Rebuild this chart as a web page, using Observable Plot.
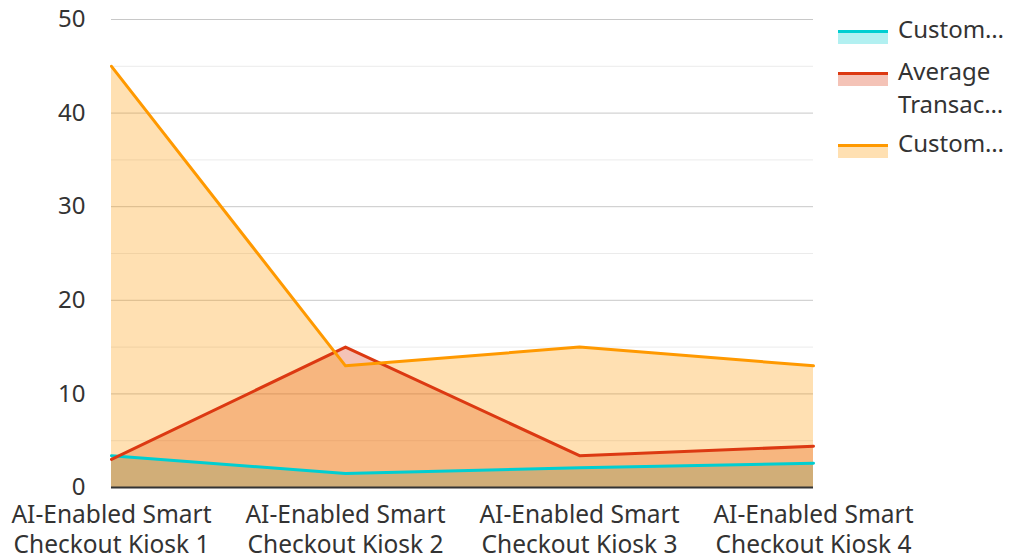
<!DOCTYPE html>
<html><head><meta charset="utf-8">
<script src="https://cdn.jsdelivr.net/npm/d3@7"></script>
<script src="https://cdn.jsdelivr.net/npm/@observablehq/plot@0.6"></script>
<style>
body{margin:0;background:#fff;font-family:"Noto Sans",sans-serif;}
#wrap{position:relative;width:1010px;height:558px;overflow:hidden;}
.item{position:absolute;left:838px;display:flex;}
.sw{width:50px;height:14px;box-sizing:border-box;border-top:3px solid;margin-top:17.5px;}
.lbl{margin-left:10px;font-size:24px;line-height:33px;color:#333;white-space:nowrap;}
</style></head><body><div id="wrap"></div>
<script>
const categories = [
  "AI-Enabled Smart\nCheckout Kiosk 1",
  "AI-Enabled Smart\nCheckout Kiosk 2",
  "AI-Enabled Smart\nCheckout Kiosk 3",
  "AI-Enabled Smart\nCheckout Kiosk 4"
];
const seriesKeys = ["s1", "s2", "s3"];
const legendLabels = [["Custom…"], ["Average", "Transac…"], ["Custom…"]];
const seriesColors = ["#00CED1", "#DC3912", "#FF9900"];
const cyanValues = [3.4, 1.5, 2.1, 2.6];
const redValues = [3.0, 15.0, 3.4, 4.4];
const orangeValues = [45, 13, 15, 13];
const majorTicks = [0, 10, 20, 30, 40, 50];
const minorTicks = [5, 15, 25, 35, 45];

const seriesValues = [cyanValues, redValues, orangeValues];
const data = [];
seriesKeys.forEach((k, i) => categories.forEach((c, j) => data.push({series: k, cat: c, value: seriesValues[i][j]})));

const chart = Plot.plot({
  width: 1010, height: 558,
  marginLeft: 111, marginRight: 197, marginTop: 19, marginBottom: 71,
  style: {fontFamily: "Noto Sans", fontSize: "24px", color: "#333", background: "#fff"},
  x: {type: "point", domain: categories, padding: 0},
  y: {domain: [0, 50]},
  color: {domain: seriesKeys, range: seriesColors},
  marks: [
    Plot.ruleY(minorTicks, {stroke: "#ebebeb", strokeWidth: 1}),
    Plot.ruleY(majorTicks.filter(d => d > 0), {stroke: "#c8c8c8", strokeWidth: 1}),
    Plot.areaY(data, {x: "cat", y1: 0, y2: "value", z: "series", fill: "series", fillOpacity: 0.3}),
    Plot.lineY(data, {x: "cat", y: "value", z: "series", stroke: "series", strokeWidth: 3}),
    Plot.ruleY([0], {stroke: "#333", strokeWidth: 2}),
    Plot.axisY({ticks: majorTicks, tickSize: 0, tickPadding: 26, fontSize: 24, label: null}),
    Plot.axisX({tickSize: 0, tickPadding: 14, fontSize: 24.5, lineHeight: 1.23, label: null})
  ]
});
const wrap = document.getElementById("wrap");
wrap.appendChild(chart);

const tops = [12, 54, 126];
legendLabels.forEach((lines, i) => {
  const item = document.createElement("div");
  item.className = "item";
  item.style.top = tops[i] + "px";
  const sw = document.createElement("div");
  sw.className = "sw";
  sw.style.borderTopColor = seriesColors[i];
  sw.style.background = d3.color(seriesColors[i]).copy({opacity: 0.3}).formatRgb();
  const lbl = document.createElement("div");
  lbl.className = "lbl";
  lbl.innerHTML = lines.join("<br>");
  item.appendChild(sw); item.appendChild(lbl);
  wrap.appendChild(item);
});
</script>
</body></html>
